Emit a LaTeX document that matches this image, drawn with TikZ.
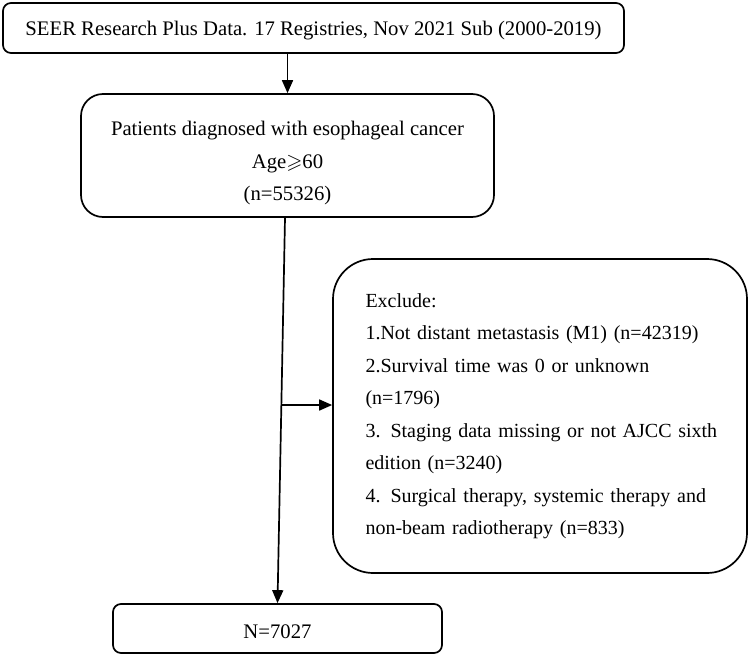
\documentclass[tikz,border=0pt]{standalone}
\usepackage{fontspec}
\setmainfont{Liberation Serif}
\usepackage{amssymb}
\usetikzlibrary{arrows.meta}
\begin{document}
\begin{tikzpicture}[x=1pt,y=-1pt,
  box/.style={draw, line width=1.7pt, rounded corners=8pt, inner sep=0pt},
  arr/.style={line width=1.7pt, -{Triangle[length=13pt,width=11pt]}},
  every node/.style={font=\fontsize{20.7}{32.5}\selectfont}]
\useasboundingbox (0,0) rectangle (749,656);
\node[box, minimum width=621pt, minimum height=50pt] (seer) at (313.5,28)
  {\raisebox{-3pt}[\height][\depth]{SEER Research Plus Data. 17 Registries, Nov 2021 Sub (2000-2019)}};
\node[box, rounded corners=22pt, minimum width=413pt, minimum height=123pt] (pat) at (287.5,155.5)
  {\raisebox{-6pt}[\height][\depth]{\begin{tabular}{@{}c@{}}Patients diagnosed with esophageal cancer\\Age$\geqslant$60\\(n=55326)\end{tabular}}};
\node[box, rounded corners=40pt, minimum width=414pt, minimum height=314pt, inner xsep=32.5pt, text width=349pt, align=left,
  font=\fontsize{20.0}{32.5}\selectfont] (exc) at (540,416)
  {Exclude:\\
   1.Not distant metastasis (M1) (n=42319)\\
   \makebox[310pt][s]{2.Survival time was 0 or unknown}\\
   (n=1796)\\
   \makebox[349pt][s]{3. Staging data missing or not AJCC sixth}\\
   edition (n=3240)\\
   \makebox[349pt][s]{4. Surgical therapy, systemic therapy and}\\
   non-beam radiotherapy (n=833)};
\node[box, minimum width=329pt, minimum height=49pt] (n) at (277.5,628.5) {\raisebox{-3pt}[\height][\depth]{N=7027}};
\draw[arr] (seer.south -| pat.north) -- (pat.north);
\draw[arr] ([xshift=-2.5pt]pat.south) -- (n.north);
\coordinate (br) at (281.6,405);
\draw[arr] (br) -- (br -| exc.west);
\end{tikzpicture}
\end{document}
